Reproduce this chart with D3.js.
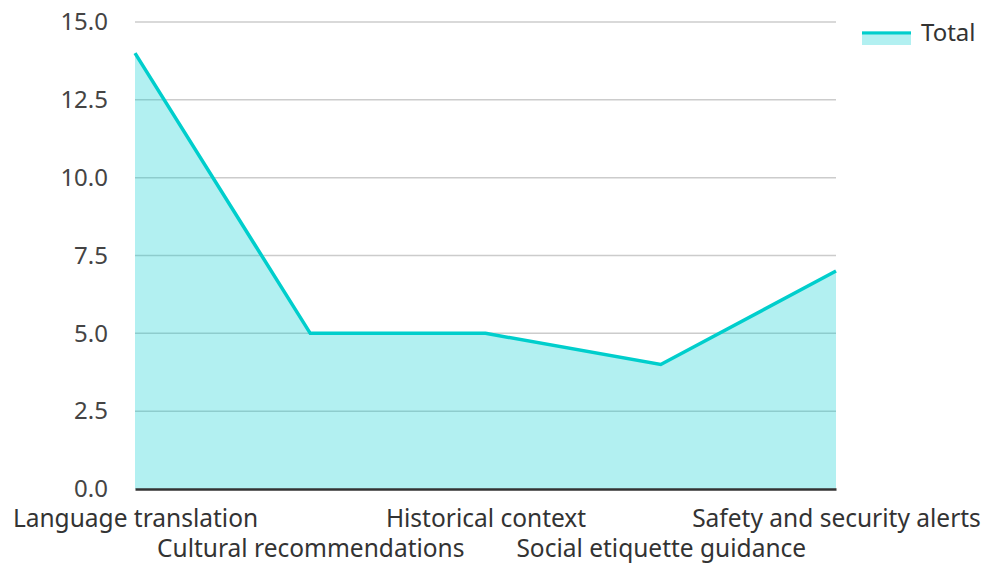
<!DOCTYPE html>
<html>
<head>
<meta charset="utf-8">
<script src="https://cdn.jsdelivr.net/npm/d3@7"></script>
<style>
  body { margin: 0; background: #fff; }
  text { font-family: "Noto Sans", "Open Sans", sans-serif; }
</style>
</head>
<body>
<div id="chart"></div>
<script>
// categories along the x axis
var categories = ["Language translation", "Cultural recommendations", "Historical context",
                  "Social etiquette guidance", "Safety and security alerts"];
// series values
var totals = [14, 5, 5, 4, 7];
// y tick values
var yTicks = [0, 2.5, 5, 7.5, 10, 12.5, 15];
var seriesName = "Total";

var width = 983,
    height = 563;

var margin = {left: 135, right: 147, top: 22, bottom: 74};

var svg = d3.select("#chart").append("svg")
    .attr("width", width)
    .attr("height", height);

var x = d3.scalePoint()
    .domain(categories)
    .range([margin.left, width - margin.right]);

var y = d3.scaleLinear()
    .domain([0, 15])
    .range([height - margin.bottom, margin.top]);

// grid lines
svg.append("g")
    .selectAll("line")
    .data(yTicks.filter(function(d) { return d > 0; }))
    .enter().append("line")
    .attr("x1", margin.left)
    .attr("x2", width - margin.right)
    .attr("y1", function(d) { return y(d); })
    .attr("y2", function(d) { return y(d); })
    .attr("stroke", "#cccccc")
    .attr("stroke-width", 1.5);

var data = categories.map(function(c, i) { return {cat: c, v: totals[i]}; });

var area = d3.area()
    .x(function(d) { return x(d.cat); })
    .y0(y(0))
    .y1(function(d) { return y(d.v); });

var line = d3.line()
    .x(function(d) { return x(d.cat); })
    .y(function(d) { return y(d.v); });

svg.append("path")
    .datum(data)
    .attr("d", area)
    .attr("fill", "rgba(0,206,209,0.3)");

svg.append("path")
    .datum(data)
    .attr("d", line)
    .attr("fill", "none")
    .attr("stroke", "#00cecc")
    .attr("stroke-width", 3.5);

// y axis labels
var yAxis = d3.axisLeft(y)
    .tickValues(yTicks)
    .tickFormat(d3.format(".1f"))
    .tickSize(0)
    .tickPadding(27);

var gy = svg.append("g")
    .attr("transform", "translate(" + margin.left + ",0)")
    .call(yAxis);
gy.select(".domain").remove();
gy.attr("font-size", 24);
gy.selectAll("text")
    .attr("fill", "#444")
    .style("font-family", "'Noto Sans', 'Open Sans', sans-serif");

// x axis
var xAxis = d3.axisBottom(x).tickSize(0).tickPadding(0);
var gx = svg.append("g")
    .attr("transform", "translate(0," + y(0) + ")")
    .call(xAxis);
gx.attr("font-size", 24.5);
gx.select(".domain")
    .attr("stroke", "#333")
    .attr("stroke-width", 2.5);
gx.selectAll("text")
    .attr("fill", "#333")
    .attr("dy", null)
    .attr("y", function(d, i) { return i % 2 === 0 ? 37.5 : 67.5; })
    .style("font-family", "'Noto Sans', 'Open Sans', sans-serif");

// legend
var legend = svg.append("g").attr("transform", "translate(862,31)");
legend.append("rect")
    .attr("width", 49).attr("height", 14)
    .attr("fill", "rgba(0,206,209,0.3)");
legend.append("line")
    .attr("x1", 0).attr("x2", 49)
    .attr("y1", 2).attr("y2", 2)
    .attr("stroke", "#00cecc")
    .attr("stroke-width", 3);
legend.append("text")
    .attr("x", 59).attr("y", 10)
    .attr("font-size", 24)
    .attr("fill", "#333")
    .text(seriesName);
</script>
</body>
</html>
